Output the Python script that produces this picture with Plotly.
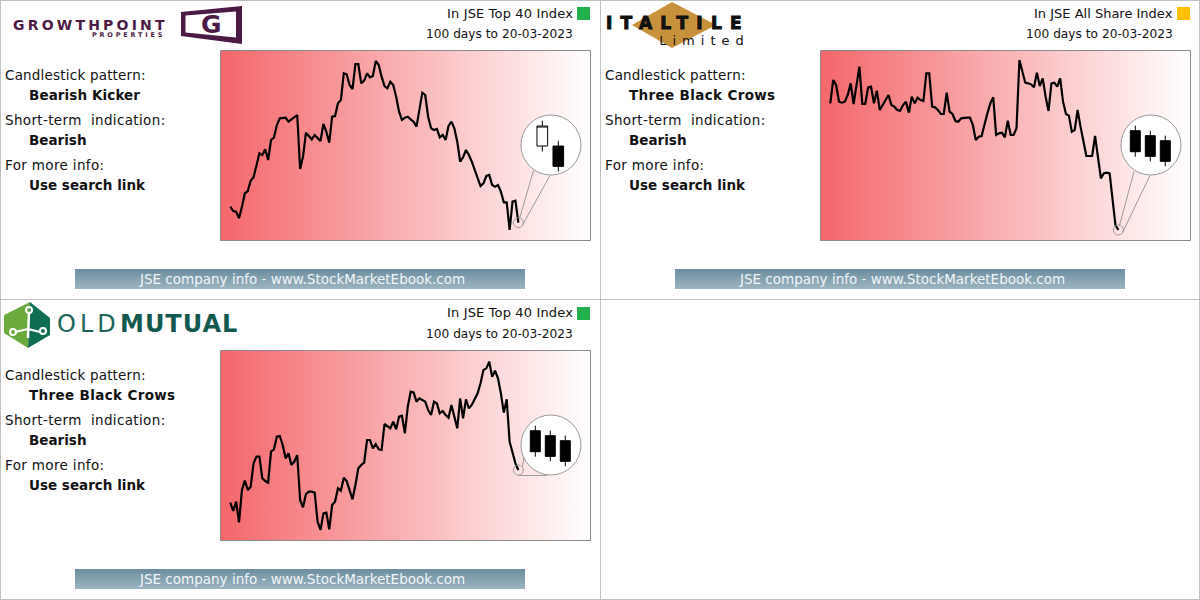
import plotly.graph_objects as go

# ---------- data ----------
GROWTHPOINT_CLOSE = [100,87,85,65,100,140,147,178,188,220,260,255,272,240,300,307,345,365,367,367,
355,362,370,375,213,250,322,312,302,315,305,297,348,325,292,370,372,410,420,500,
497,465,453,528,528,470,478,500,488,492,537,525,490,462,455,475,465,430,385,360,
367,370,362,355,340,390,442,435,370,335,330,333,308,315,300,342,355,335,295,235,
248,270,255,235,212,190,162,170,192,195,165,160,165,145,113,113,30,115,118,52]
ITALTILE_CLOSE = [410,480,465,415,412,415,435,470,408,470,520,408,408,458,460,410,448,390,405,420,
435,405,400,390,388,405,415,382,430,410,427,420,417,500,500,400,398,390,378,378,
442,385,378,357,355,365,367,367,367,345,300,310,312,350,380,410,428,315,320,322,
308,358,315,315,335,540,505,472,470,467,458,502,462,485,430,387,470,472,460,485,
415,378,373,325,330,390,340,290,252,252,252,312,250,185,200,202,200,120,45,30]
OLDMUTUAL_CLOSE = [112,87,115,53,150,178,150,160,230,250,250,185,177,172,265,272,310,312,285,245,
260,225,235,255,120,98,138,145,145,142,55,30,80,82,32,105,115,155,148,187,
177,150,122,165,215,225,232,300,300,275,288,272,270,348,340,335,355,332,370,373,
320,400,445,443,415,425,420,415,390,375,415,410,380,387,375,367,405,370,335,425,
365,422,395,405,422,440,470,510,515,535,490,508,485,440,382,422,295,265,230,210]

DAYS = list(range(100))

BEARISH_KICKER_OPEN = [284, 284]
BEARISH_KICKER_HIGH = [360, 300]
BEARISH_KICKER_LOW = [268, 208]
BEARISH_KICKER_CLOSE = [344, 223]

THREE_CROWS_OPEN = [330, 315, 300]
THREE_CROWS_HIGH = [345, 330, 315]
THREE_CROWS_LOW = [252, 238, 223]
THREE_CROWS_CLOSE = [267, 253, 238]

INDEX_LABELS = ["In JSE Top 40 Index", "In JSE All Share Index", "In JSE Top 40 Index"]
INDEX_SPACING = [0.15, 0, 0.15]
INDEX_COLOURS = ["#22B14C", "#FFC000", "#22B14C"]
PATTERNS = ["Bearish Kicker", "Three Black Crows", "Three Black Crows"]
PATTERN_SPACING = [0.1, 0.35, 0.35]
INDICATIONS = ["Bearish", "Bearish", "Bearish"]
PERIOD_LABEL = "100 days to 20-03-2023"
LINK_LABEL = "JSE company info - www.StockMarketEbook.com"

W, H = 1200, 600
FONT = "DejaVu Sans"
RED = "#F4676B"
GREY = "#999999"

def px(x):
    return x / W

def py(y):
    return 1 - y / H

shapes, annotations, traces = [], [], []

def text(x, y, s, anchor="left", size=13, bold=False, color="#111111", spacing=0, extra=""):
    if spacing or extra:
        s = f'<span style="letter-spacing:{spacing}px;{extra}">{s}</span>'
    annotations.append(dict(
        x=px(x), y=py(y), xref="paper", yref="paper", text=f"<b>{s}</b>" if bold else s,
        showarrow=False, xanchor=anchor, yanchor="middle", borderpad=0, borderwidth=0, align=anchor if anchor != "center" else "center",
        font=dict(family=FONT, size=size, color=color)))

def rect(x0, y0, x1, y1, fill):
    shapes.append(dict(type="rect", xref="paper", yref="paper", x0=px(x0), x1=px(x1), y0=py(y0), y1=py(y1),
                       fillcolor=fill, line=dict(width=0), layer="above"))

def poly(points, fill):
    d = "M " + " L ".join(f"{px(a):.5f},{py(b):.5f}" for a, b in points) + " Z"
    shapes.append(dict(type="path", xref="paper", yref="paper", path=d, fillcolor=fill,
                       line=dict(width=0), layer="above"))

def seg(x0, y0, x1, y1, color=GREY, width=1):
    shapes.append(dict(type="line", xref="paper", yref="paper", x0=px(x0), x1=px(x1), y0=py(y0), y1=py(y1),
                       line=dict(color=color, width=width), layer="above"))

def ring(cx, cy, r, color=GREY, width=1):
    shapes.append(dict(type="circle", xref="paper", yref="paper", x0=px(cx - r), x1=px(cx + r),
                       y0=py(cy - r), y1=py(cy + r), line=dict(color=color, width=width), layer="above"))

layout_axes = {}

def panel(n, ox, oy, closes, candles, connectors):
    sx = "" if n == 1 else str(n)
    x_lo, x_hi = -3.37, 123.8
    y_lo, y_hi = -1.5, 568.5
    layout_axes[f"xaxis{sx}"] = dict(domain=[px(ox + 220.5), px(ox + 590.5)], range=[x_lo, x_hi], visible=False,
                                     fixedrange=True)
    layout_axes[f"yaxis{sx}"] = dict(domain=[py(oy + 240.5), py(oy + 50.5)], range=[y_lo, y_hi], visible=False,
                                     fixedrange=True, anchor=f"x{sx}")
    traces.append(go.Scatter(x=[x_lo, x_hi, x_hi, x_lo, x_lo], y=[y_lo, y_lo, y_hi, y_hi, y_lo],
                             xaxis=f"x{sx}", yaxis=f"y{sx}", mode="none", fill="toself",
                             fillgradient=dict(type="horizontal", colorscale=[[0, RED], [1, "#FFFFFF"]]),
                             hoverinfo="skip", showlegend=False))
    traces.append(go.Scatter(x=[(551 - 230.3) / 2.91], y=[285], xaxis=f"x{sx}", yaxis=f"y{sx}", mode="markers",
                             marker=dict(size=60, color="#FFFFFF", line=dict(color=GREY, width=1)),
                             hoverinfo="skip", showlegend=False))
    traces.append(go.Scatter(x=DAYS, y=closes, xaxis=f"x{sx}", yaxis=f"y{sx}", mode="lines",
                             line=dict(color="#000000", width=2.2), hoverinfo="skip", showlegend=False))
    traces.append(go.Scatter(x=[DAYS[-1]], y=[closes[-1]], xaxis=f"x{sx}", yaxis=f"y{sx}", mode="markers",
                             marker=dict(size=10, color="rgba(0,0,0,0)", line=dict(color=GREY, width=1)),
                             hoverinfo="skip", showlegend=False))
    m = n + 3
    o, h, l, c, unit, first = candles
    ix_lo = (521 - first) / unit
    ix_hi = (581 - first) / unit
    layout_axes[f"xaxis{m}"] = dict(domain=[px(ox + 521), px(ox + 581)], range=[ix_lo, ix_hi], visible=False,
                                    fixedrange=True, rangeslider=dict(visible=False), anchor=f"y{m}")
    layout_axes[f"yaxis{m}"] = dict(domain=[py(oy + 175.7), py(oy + 115.7)], range=[195, 375], visible=False,
                                    fixedrange=True, anchor=f"x{m}")
    traces.append(go.Candlestick(x=list(range(len(o))), open=o, high=h, low=l, close=c,
                                 xaxis=f"x{m}", yaxis=f"y{m}", whiskerwidth=0, hoverinfo="skip", showlegend=False,
                                 increasing=dict(fillcolor="#FFFFFF", line=dict(color="#000000", width=1)),
                                 decreasing=dict(fillcolor="#000000", line=dict(color="#000000", width=1))))
    for a, b, p, q in connectors:
        seg(ox + a, oy + b, ox + p, oy + q)
    i = n - 1
    text(ox + 572.5, oy + 13, INDEX_LABELS[i], "right", 13, spacing=INDEX_SPACING[i])
    rect(ox + 577, oy + 7, ox + 590, oy + 20, INDEX_COLOURS[i])
    text(ox + 573, oy + 34, PERIOD_LABEL, "right", 12.2)
    text(ox + 5, oy + 75, "Candlestick pattern:", size=13.5, spacing=0.2)
    text(ox + 29, oy + 95, PATTERNS[i], size=13.5, bold=True, spacing=PATTERN_SPACING[i])
    text(ox + 5, oy + 120, "Short-term\u00a0\u00a0indication:", size=13.5, spacing=0.35)
    text(ox + 29, oy + 140, INDICATIONS[i], size=13.5, bold=True)
    text(ox + 5, oy + 165, "For more info:", size=13.5, spacing=0.35)
    text(ox + 29, oy + 185, "Use search link", size=13.5, bold=True)
    top, bot = (0x6C, 0x8E, 0xA0), (0x9C, 0xB4, 0xC0)
    for k in range(20):
        t = k / 19
        col = "rgb(%d,%d,%d)" % tuple(round(top[j] + (bot[j] - top[j]) * t) for j in range(3))
        rect(ox + 75, oy + 269 + k, ox + 525, oy + 270 + k, col)
    text(ox + 302, oy + 279, LINK_LABEL, "center", 13.5, color="#F2F6F8")

panel(1, 0, 0, GROWTHPOINT_CLOSE,
      (BEARISH_KICKER_OPEN, BEARISH_KICKER_HIGH, BEARISH_KICKER_LOW, BEARISH_KICKER_CLOSE, 16, 542.3),
      [(519.5, 218.5, 533.5, 170.5), (522.5, 225, 550, 175.5)])
panel(2, 600, 0, ITALTILE_CLOSE,
      (THREE_CROWS_OPEN, THREE_CROWS_HIGH, THREE_CROWS_LOW, THREE_CROWS_CLOSE, 15, 535.3),
      [(519.5, 225.5, 534, 171.5), (522.5, 232.5, 550, 175.5)])
panel(3, 0, 300, OLDMUTUAL_CLOSE,
      (THREE_CROWS_OPEN, THREE_CROWS_HIGH, THREE_CROWS_LOW, THREE_CROWS_CLOSE, 15, 535.3),
      [(522.5, 166.5, 524, 157), (518.5, 175.5, 547, 175.5)])

for a, b, p, q in [(0, 0.5, 1200, 0.5), (0, 299.5, 1200, 299.5), (0, 599.5, 1200, 599.5),
                   (0.5, 0, 0.5, 600), (600.5, 0, 600.5, 600), (1199.5, 0, 1199.5, 600)]:
    seg(a, b, p, q, "#C0C0C0")

for ox, oy in [(0, 0), (600, 0), (0, 300)]:
    shapes.append(dict(type="rect", xref="paper", yref="paper", x0=px(ox + 220.5), x1=px(ox + 590.5),
                       y0=py(oy + 240.5), y1=py(oy + 50.5), line=dict(color="#8A8A8A", width=1), layer="above"))

# ---------- logos ----------
PURPLE = "#4B1A45"
text(13, 25, "GROWTHPOINT", size=14, bold=True, color=PURPLE, spacing=3.2)
text(92, 35, "PROPERTIES", size=6.5, bold=True, color=PURPLE, spacing=2.8)
poly([(181, 12), (242, 6), (242, 44), (181, 36)], PURPLE)
poly([(185.5, 15.5), (236, 11.5), (236, 37.5), (185.5, 32.5)], "#FFFFFF")
text(211, 25, "G", "center", 25, True, PURPLE)

poly([(672, 2), (716, 25), (672, 48), (632, 25)], "#C8923C")
text(750, 31,
     '<b><span style="font-size:17px;letter-spacing:8.2px;stroke:#111111;stroke-width:1px;">ITALTILE</span></b><br>'
     '<span style="font-size:13px;letter-spacing:6px;">Limited</span>',
     "right", 12.5, color="#111111")

poly([(30, 302), (28, 348), (4, 333), (4, 315)], "#6BAA3C")
poly([(30, 302), (50, 318), (50, 335), (28, 348)], "#0F6E52")
seg(29, 312, 28, 338, "#FFFFFF", 2.5)
seg(28, 329, 15, 332, "#FFFFFF", 2)
seg(28, 329, 40, 332, "#FFFFFF", 2)
ring(29, 310, 3, "#FFFFFF", 2)
ring(13, 332, 3, "#FFFFFF", 2)
ring(43, 331, 3, "#FFFFFF", 2)
text(57, 324, "OLD", size=24, color="#1B6658", spacing=4)
text(120, 324, "MUTUAL", size=24, bold=True, color="#13594F", spacing=1)

fig = go.Figure(data=traces)
fig.update_layout(width=W, height=H, margin=dict(l=0, r=0, t=0, b=0), autosize=False, boxgap=0.05,
                  paper_bgcolor="#FFFFFF", plot_bgcolor="rgba(0,0,0,0)", showlegend=False,
                  shapes=shapes, annotations=annotations, font=dict(family=FONT), **layout_axes)
fig.write_html("out.html", config=dict(displayModeBar=False),
               post_script="document.body.style.margin='0';")
